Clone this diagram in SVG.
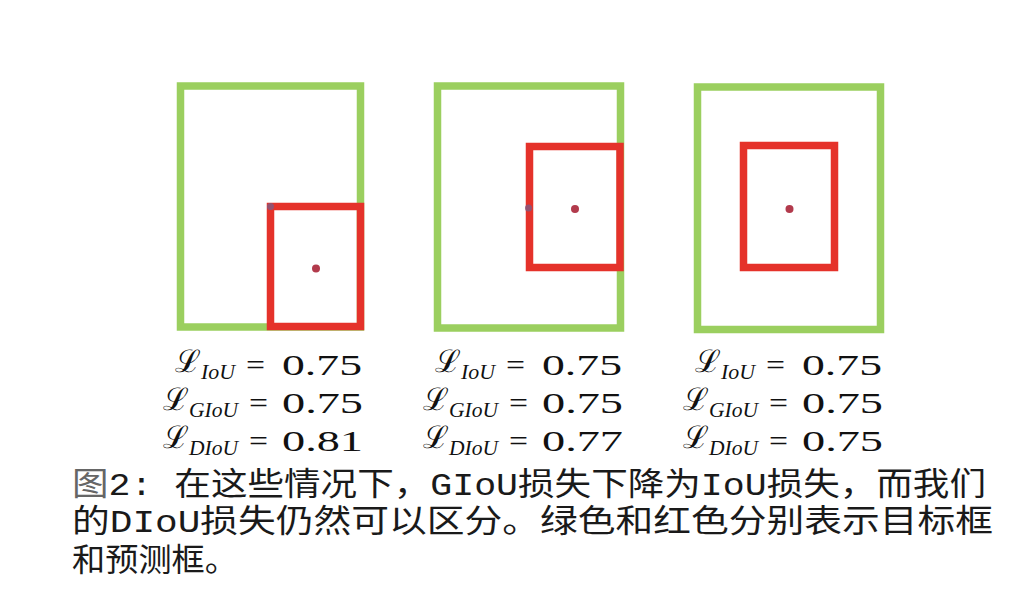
<svg xmlns="http://www.w3.org/2000/svg" width="1031" height="614" viewBox="0 0 1031 614">
<style>
.gt{fill:none;stroke:#9bcf5f;stroke-width:7.5}
.pr{fill:none;stroke:#e5322a;stroke-width:7.5}
.dot{fill:#b23a4c}
.gc{fill:#86577c;opacity:0.85}
.L{font-family:"DejaVu Serif","Liberation Serif",serif;font-size:31px;fill:#111}
.sub{font-family:"Liberation Serif",serif;font-style:italic;font-size:22px;fill:#111}
.eq{font-family:"Liberation Serif",serif;font-size:30px;fill:#111}
.cap{font-family:"Liberation Mono","Noto Sans CJK SC",monospace;font-size:32px;fill:#1a1a1a}
</style>
<rect width="1031" height="614" fill="#ffffff"/>
<g id="panel1">
  <rect class="gt" x="180.5" y="86" width="180" height="241"/>
  <rect class="pr" x="270.5" y="206.5" width="90" height="120"/>
  <circle class="gc" cx="270.5" cy="206.5" r="3.5"/>
  <circle class="dot" cx="316" cy="268.5" r="4"/>
</g>
<g id="panel2">
  <rect class="gt" x="437.5" y="86" width="183" height="242"/>
  <rect class="pr" x="529.5" y="146.5" width="90.5" height="121"/>
  <circle class="gc" cx="528.5" cy="208" r="3.5"/>
  <circle class="dot" cx="575" cy="209" r="4"/>
</g>
<g id="panel3">
  <rect class="gt" x="697.5" y="87" width="183" height="242.5"/>
  <rect class="pr" x="743.5" y="145.5" width="91" height="122"/>
  <circle class="dot" cx="789.5" cy="209" r="4"/>
</g>
<g id="formulas1">
  <text class="L" x="175" y="372" textLength="26" lengthAdjust="spacingAndGlyphs">ℒ</text>
  <text class="sub" x="201" y="379" textLength="34" lengthAdjust="spacingAndGlyphs">IoU</text>
  <text class="eq" x="246" y="375" textLength="19" lengthAdjust="spacingAndGlyphs">=</text>
  <text class="eq" x="282" y="375" textLength="80" lengthAdjust="spacingAndGlyphs">0.75</text>
  <text class="L" x="163" y="410" textLength="26" lengthAdjust="spacingAndGlyphs">ℒ</text>
  <text class="sub" x="189" y="417" textLength="49" lengthAdjust="spacingAndGlyphs">GIoU</text>
  <text class="eq" x="249" y="413" textLength="19" lengthAdjust="spacingAndGlyphs">=</text>
  <text class="eq" x="282" y="413" textLength="81" lengthAdjust="spacingAndGlyphs">0.75</text>
  <text class="L" x="163" y="448" textLength="26" lengthAdjust="spacingAndGlyphs">ℒ</text>
  <text class="sub" x="189" y="455" textLength="49" lengthAdjust="spacingAndGlyphs">DIoU</text>
  <text class="eq" x="249" y="451" textLength="19" lengthAdjust="spacingAndGlyphs">=</text>
  <text class="eq" x="282" y="451" textLength="81" lengthAdjust="spacingAndGlyphs">0.81</text>
</g>
<g id="formulas2">
  <text class="L" x="435" y="372" textLength="26" lengthAdjust="spacingAndGlyphs">ℒ</text>
  <text class="sub" x="461" y="379" textLength="34" lengthAdjust="spacingAndGlyphs">IoU</text>
  <text class="eq" x="506" y="375" textLength="19" lengthAdjust="spacingAndGlyphs">=</text>
  <text class="eq" x="542" y="375" textLength="80" lengthAdjust="spacingAndGlyphs">0.75</text>
  <text class="L" x="423" y="410" textLength="26" lengthAdjust="spacingAndGlyphs">ℒ</text>
  <text class="sub" x="449" y="417" textLength="49" lengthAdjust="spacingAndGlyphs">GIoU</text>
  <text class="eq" x="509" y="413" textLength="19" lengthAdjust="spacingAndGlyphs">=</text>
  <text class="eq" x="542" y="413" textLength="81" lengthAdjust="spacingAndGlyphs">0.75</text>
  <text class="L" x="423" y="448" textLength="26" lengthAdjust="spacingAndGlyphs">ℒ</text>
  <text class="sub" x="449" y="455" textLength="49" lengthAdjust="spacingAndGlyphs">DIoU</text>
  <text class="eq" x="509" y="451" textLength="19" lengthAdjust="spacingAndGlyphs">=</text>
  <text class="eq" x="542" y="451" textLength="81" lengthAdjust="spacingAndGlyphs">0.77</text>
</g>
<g id="formulas3">
  <text class="L" x="695" y="372" textLength="26" lengthAdjust="spacingAndGlyphs">ℒ</text>
  <text class="sub" x="721" y="379" textLength="34" lengthAdjust="spacingAndGlyphs">IoU</text>
  <text class="eq" x="766" y="375" textLength="19" lengthAdjust="spacingAndGlyphs">=</text>
  <text class="eq" x="802" y="375" textLength="80" lengthAdjust="spacingAndGlyphs">0.75</text>
  <text class="L" x="683" y="410" textLength="26" lengthAdjust="spacingAndGlyphs">ℒ</text>
  <text class="sub" x="709" y="417" textLength="49" lengthAdjust="spacingAndGlyphs">GIoU</text>
  <text class="eq" x="769" y="413" textLength="19" lengthAdjust="spacingAndGlyphs">=</text>
  <text class="eq" x="802" y="413" textLength="81" lengthAdjust="spacingAndGlyphs">0.75</text>
  <text class="L" x="683" y="448" textLength="26" lengthAdjust="spacingAndGlyphs">ℒ</text>
  <text class="sub" x="709" y="455" textLength="49" lengthAdjust="spacingAndGlyphs">DIoU</text>
  <text class="eq" x="769" y="451" textLength="19" lengthAdjust="spacingAndGlyphs">=</text>
  <text class="eq" x="802" y="451" textLength="81" lengthAdjust="spacingAndGlyphs">0.75</text>
</g>
<g id="caption">
  <text class="cap" x="72" y="495" textLength="914" lengthAdjust="spacingAndGlyphs"><tspan fill="#666">图</tspan>2: 在这些情况下，GIoU损失下降为IoU损失，而我们</text>
  <text class="cap" x="72" y="532" textLength="921" lengthAdjust="spacingAndGlyphs">的DIoU损失仍然可以区分。绿色和红色分别表示目标框</text>
  <text class="cap" x="72" y="571" textLength="166" lengthAdjust="spacingAndGlyphs">和预测框。</text>
</g>
</svg>
